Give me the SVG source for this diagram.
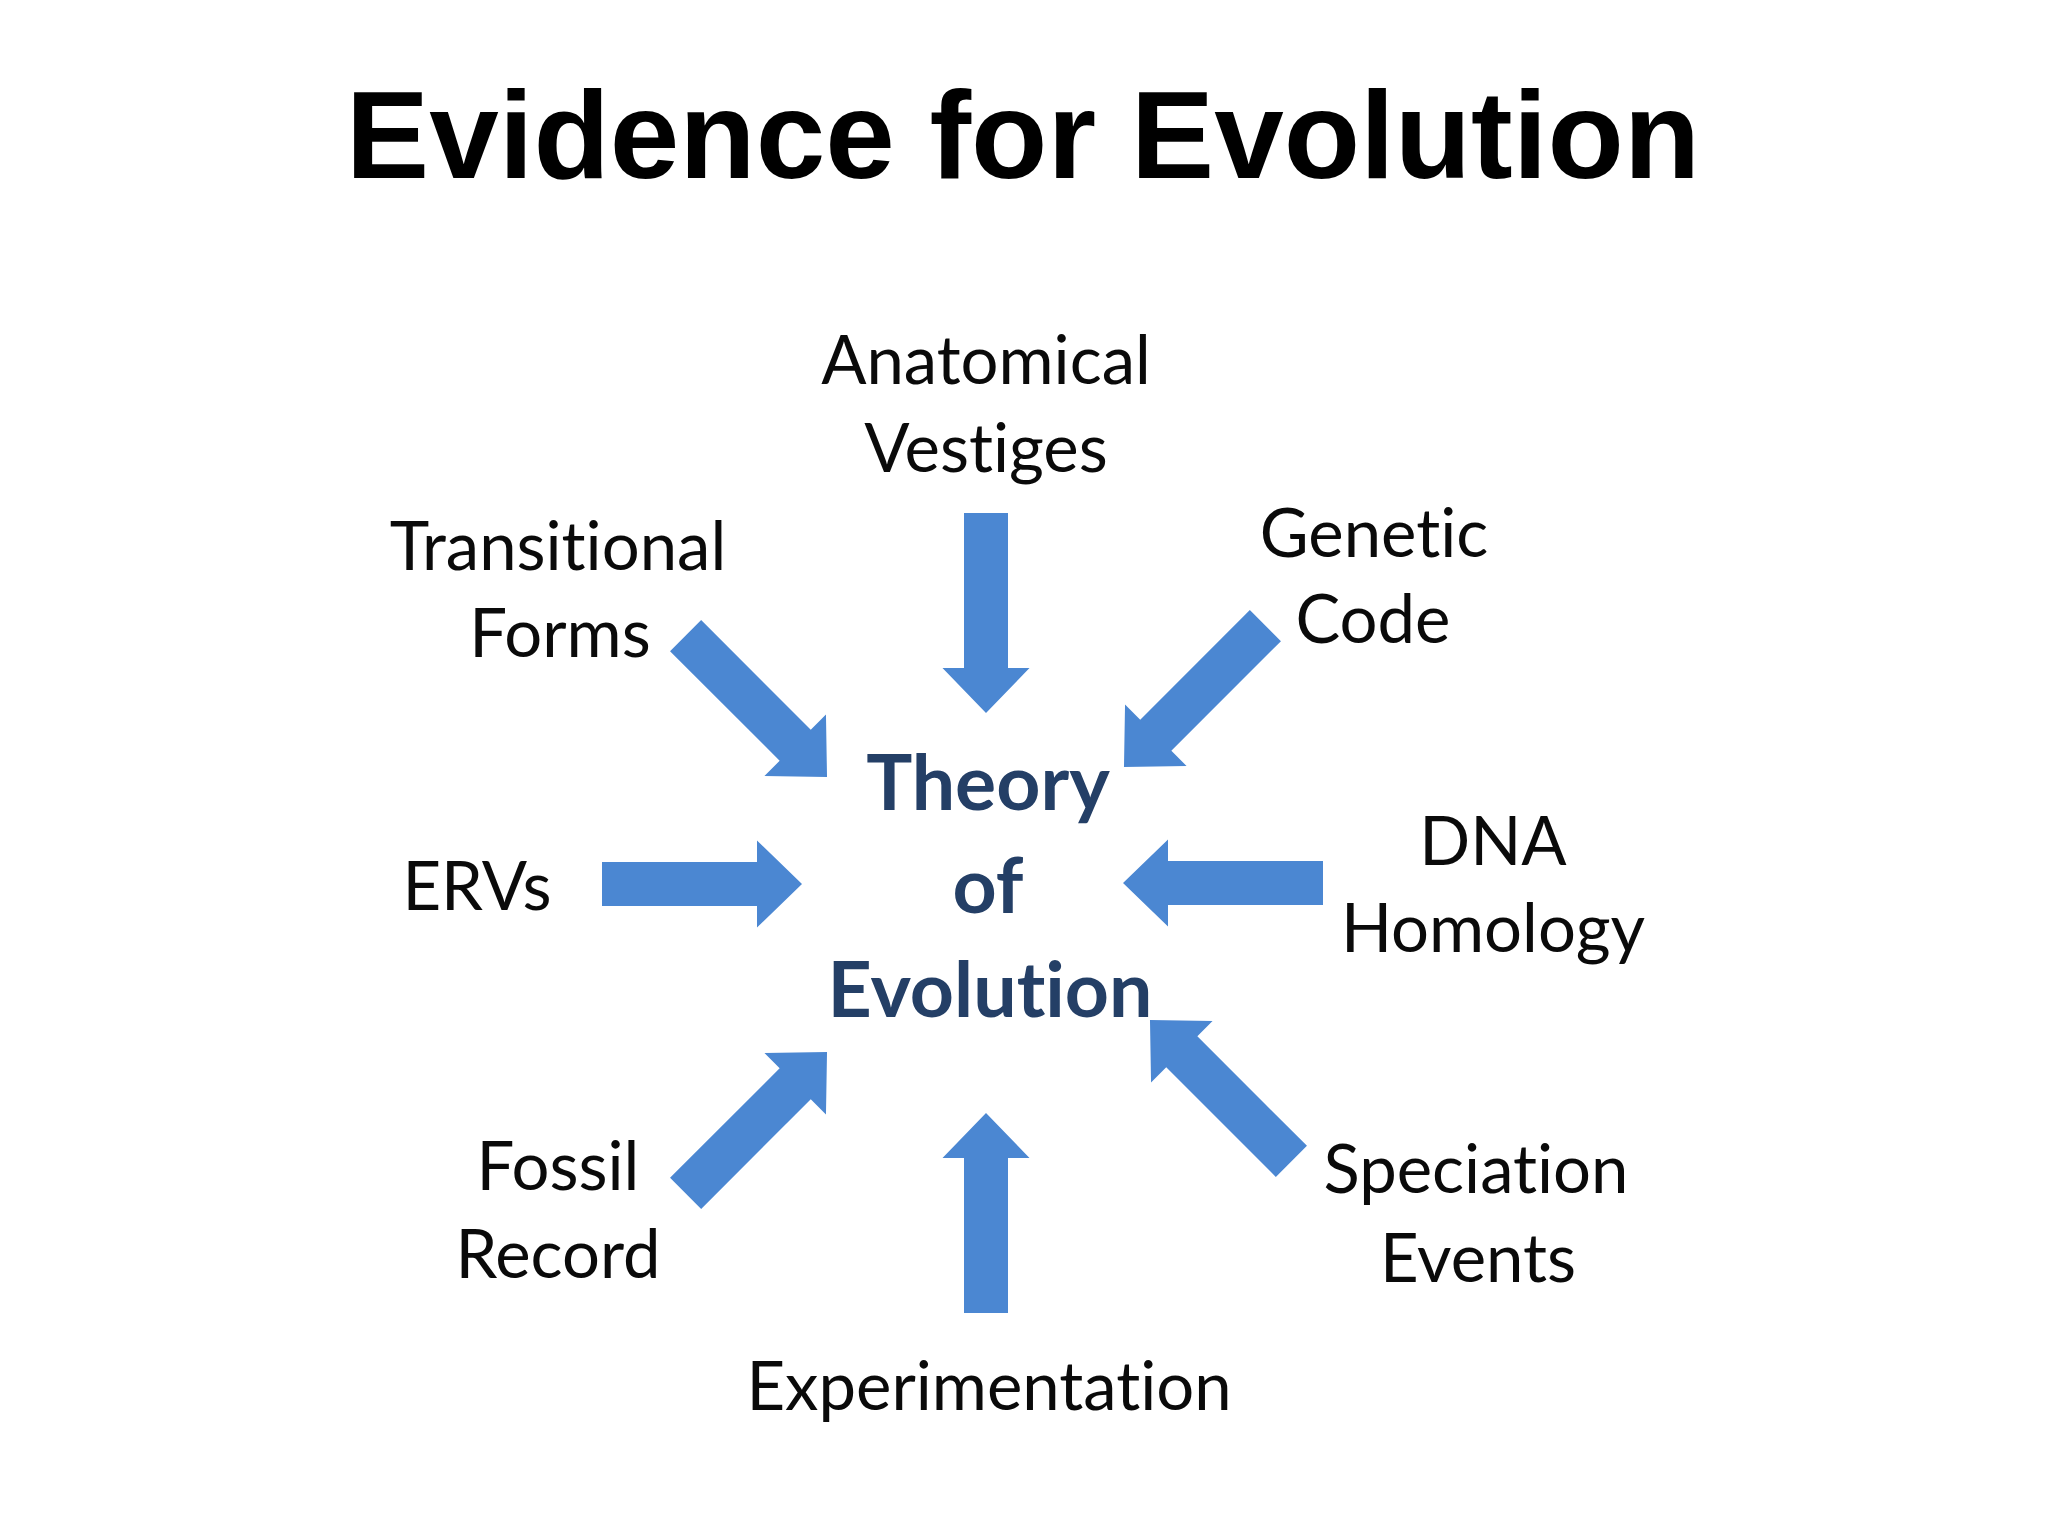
<svg xmlns="http://www.w3.org/2000/svg" width="2048" height="1536" viewBox="0 0 2048 1536">
<style>
.title{font-family:"Liberation Sans",Arial,sans-serif;font-weight:bold;font-size:125px;fill:#000;text-anchor:middle}
.lbl{font-family:Lato,"Open Sans",sans-serif;font-size:67px;fill:#0a0a0a;text-anchor:middle;font-variant-ligatures:none;font-feature-settings:"liga" 0,"clig" 0}
.ctr{font-family:Lato,"Open Sans",sans-serif;font-weight:bold;font-size:77px;fill:#243f66;text-anchor:middle;font-variant-ligatures:none;font-feature-settings:"liga" 0,"clig" 0}
.arr{fill:#4b87d2}
</style>
<defs>
<path id="arrow" d="M0,-22 L155,-22 L155,-43.5 L200,0 L155,43.5 L155,22 L0,22 Z"/>
</defs>
<rect width="2048" height="1536" fill="#fff"/>
<text class="title" x="1023" y="178">Evidence for Evolution</text>

<g id="connectors" class="arr">
<use href="#arrow" transform="translate(986,513) rotate(90)"/>
<use href="#arrow" transform="translate(986,1313) rotate(-90)"/>
<use href="#arrow" transform="translate(602,884)"/>
<use href="#arrow" transform="translate(1323,883) rotate(180)"/>
<use href="#arrow" transform="translate(685.6,635.6) rotate(45)"/>
<use href="#arrow" transform="translate(1265.4,625.6) rotate(135)"/>
<use href="#arrow" transform="translate(685.6,1193.4) rotate(-45)"/>
<use href="#arrow" transform="translate(1291.4,1161.4) rotate(-135)"/>
</g>

<g id="center"><text class="ctr" x="988" y="810">Theory</text><text class="ctr" x="988" y="913">of</text><text class="ctr" x="990" y="1017">Evolution</text></g>
<g id="anatomical"><text class="lbl" x="986" y="384">Anatomical</text><text class="lbl" x="986" y="472">Vestiges</text></g>
<g id="transitional"><text class="lbl" x="558" y="570">Transitional</text><text class="lbl" x="560" y="657">Forms</text></g>
<g id="genetic"><text class="lbl" x="1374" y="557">Genetic</text><text class="lbl" x="1373" y="643">Code</text></g>
<g id="ervs"><text class="lbl" x="477" y="910">ERVs</text></g>
<g id="dna"><text class="lbl" x="1493" y="865">DNA</text><text class="lbl" x="1493" y="952">Homology</text></g>
<g id="fossil"><text class="lbl" x="558" y="1190">Fossil</text><text class="lbl" x="558" y="1278">Record</text></g>
<g id="speciation"><text class="lbl" x="1476" y="1193">Speciation</text><text class="lbl" x="1478" y="1282">Events</text></g>
<g id="experimentation"><text class="lbl" x="989" y="1410">Experimentation</text></g>
</svg>
